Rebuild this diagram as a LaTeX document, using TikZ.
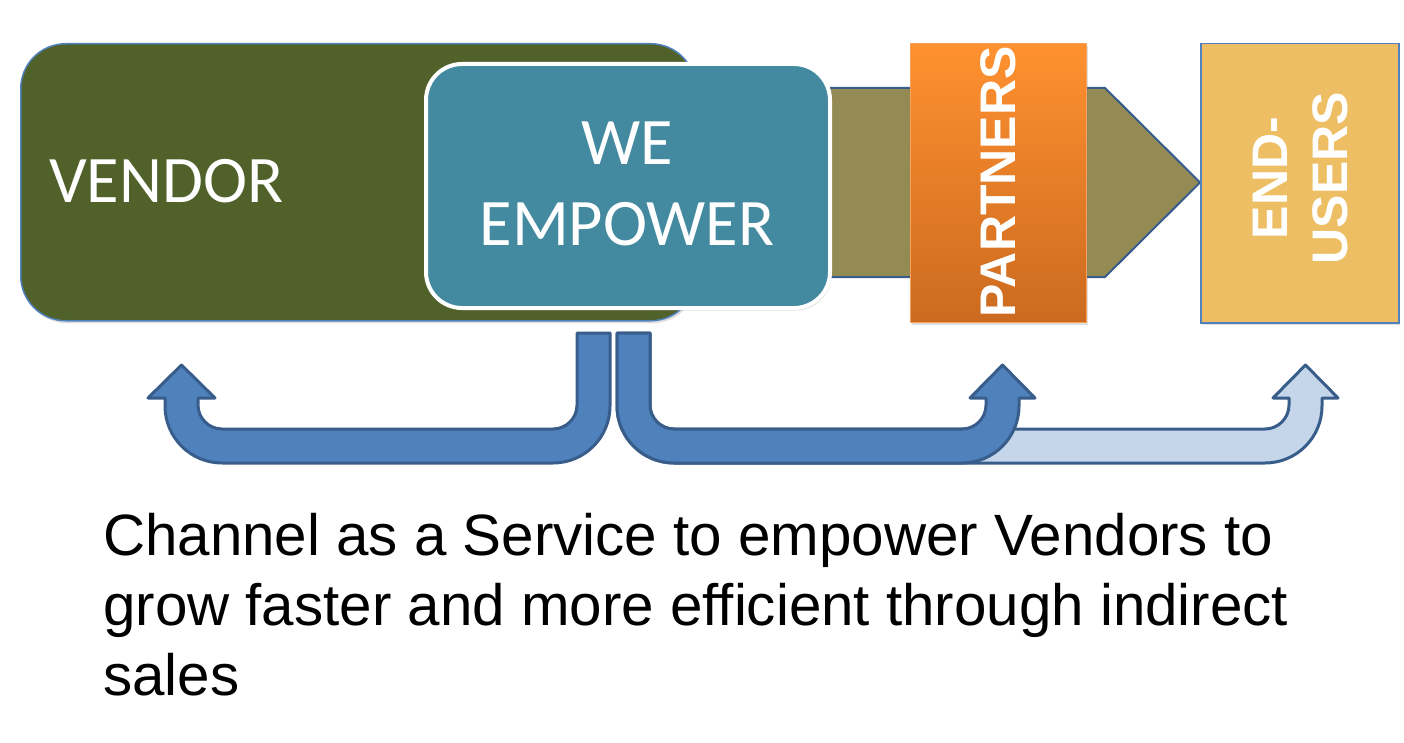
\documentclass[tikz,border=0pt]{standalone}
\usepackage{fontspec}
\setmainfont{Liberation Sans}
\newfontfamily\calfont{Carlito}
\usetikzlibrary{shadows}
\definecolor{vendorfill}{HTML}{50612A}
\definecolor{officeblue}{HTML}{4F81BD}
\definecolor{darkblue}{HTML}{385D8A}
\definecolor{wefill}{HTML}{4389A0}
\definecolor{olivefill}{HTML}{948A54}
\definecolor{ortop}{HTML}{FF9130}
\definecolor{orbot}{HTML}{CB6A1F}
\definecolor{orborder}{HTML}{F7A15A}
\definecolor{endfill}{HTML}{EDBE63}
\definecolor{lightarrow}{HTML}{C6D6EA}
\tikzset{
  boxshadow/.style={drop shadow={opacity=0.25,shadow xshift=1.5pt,shadow yshift=-2.5pt}},
  vendorbox/.style={draw=officeblue,line width=1.5pt,fill=vendorfill,rounded corners=45pt,
    minimum width=675pt,minimum height=277pt,anchor=north west,inner sep=0pt,boxshadow},
  webox/.style={draw=white,line width=4pt,fill=wefill,rounded corners=36pt,
    minimum width=404pt,minimum height=244pt,anchor=north west,inner sep=0pt,boxshadow},
  partnerbox/.style={draw=orborder,line width=1.2pt,top color=ortop,bottom color=orbot,
    minimum width=176pt,minimum height=279pt,anchor=north west,inner sep=0pt,boxshadow},
  endbox/.style={draw=officeblue,line width=1.5pt,fill=endfill,
    minimum width=198pt,minimum height=279pt,anchor=north west,inner sep=0pt,boxshadow},
  bigcal/.style={text=white,inner sep=0pt,font=\calfont\fontsize{66.5}{80}\selectfont},
  vertlabel/.style={text=white,inner sep=0pt,rotate=90,align=center,
    font=\bfseries\fontsize{50}{60}\selectfont},
  blockarrow/.style={draw=darkblue,line width=3pt,line join=round,fill=officeblue},
  lightblock/.style={blockarrow,fill=lightarrow},
  pentarrow/.style={draw=darkblue,line width=2pt,line join=miter,fill=olivefill},
  caption/.style={anchor=north west,inner sep=0pt,align=left,text=black,
    font=\fontsize{58.3}{70}\selectfont}
}
\begin{document}
\begin{tikzpicture}[x=1pt,y=-1pt]
\useasboundingbox (0,0) rectangle (1404,743);
\fill[white] (0,0) rectangle (1404,743);
% vendor box
\node[vendorbox] (vendor) at (20,43) {};
% olive pentagon arrow
\draw[pentarrow] (780,88) -- (1105,88) -- (1200,182.5) -- (1105,277) -- (780,277) -- cycle;
% we empower box
\node[webox] (we) at (424,62) {};
% partners box
\node[partnerbox] (partners) at (910,43) {};
% end users box
\node[endbox] (endusers) at (1200,43) {};
% texts
\node[bigcal,anchor=base west] (vendortxt) at (49,203) {VENDOR};
\node[bigcal,anchor=base] (wetxt) at (627,165) {WE};
\node[bigcal,anchor=base] (empowertxt) at (627,245) {EMPOWER};
\node[vertlabel] (partnerstxt) at (998.5,182) {PARTNERS};
\node[vertlabel] (endtxt) at (1301,178) {END-\\USERS};
% U-turn arrows
\draw[lightblock] (617,333) -- (650,333) -- (650,405)
  .. controls (650,418.2) and (660.8,429) .. (674,429) -- (1265,429)
  .. controls (1278.2,429) and (1289,418.2) .. (1289,405) -- (1289,398) -- (1273,398)
  -- (1305.5,365) -- (1338,398) -- (1322,398) -- (1322,406)
  .. controls (1322,437.5) and (1296.5,463) .. (1265,463) -- (674,463)
  .. controls (642.5,463) and (617,437.5) .. (617,406) -- cycle;
\draw[blockarrow] (617,333) -- (650,333) -- (650,405)
  .. controls (650,418.2) and (660.8,429) .. (674,429) -- (962,429)
  .. controls (975.2,429) and (986,418.2) .. (986,405) -- (986,398) -- (970,398)
  -- (1002.5,365) -- (1035,398) -- (1019,398) -- (1019,406)
  .. controls (1019,437.5) and (993.5,463) .. (962,463) -- (674,463)
  .. controls (642.5,463) and (617,437.5) .. (617,406) -- cycle;
\draw[blockarrow] (577,333) -- (610,333) -- (610,406)
  .. controls (610,437.5) and (584.5,463) .. (553,463) -- (222,463)
  .. controls (190.5,463) and (165,437.5) .. (165,406) -- (165,398) -- (148,398)
  -- (181.5,365) -- (215,398) -- (198,398) -- (198,405)
  .. controls (198,418.2) and (208.8,429) .. (222,429) -- (553,429)
  .. controls (566.2,429) and (577,418.2) .. (577,405) -- cycle;
% caption
\node[caption] (captiontxt) at (103,513) {Channel as a Service to empower Vendors to\\grow faster and more efficient through indirect\\sales};
\end{tikzpicture}
\end{document}
